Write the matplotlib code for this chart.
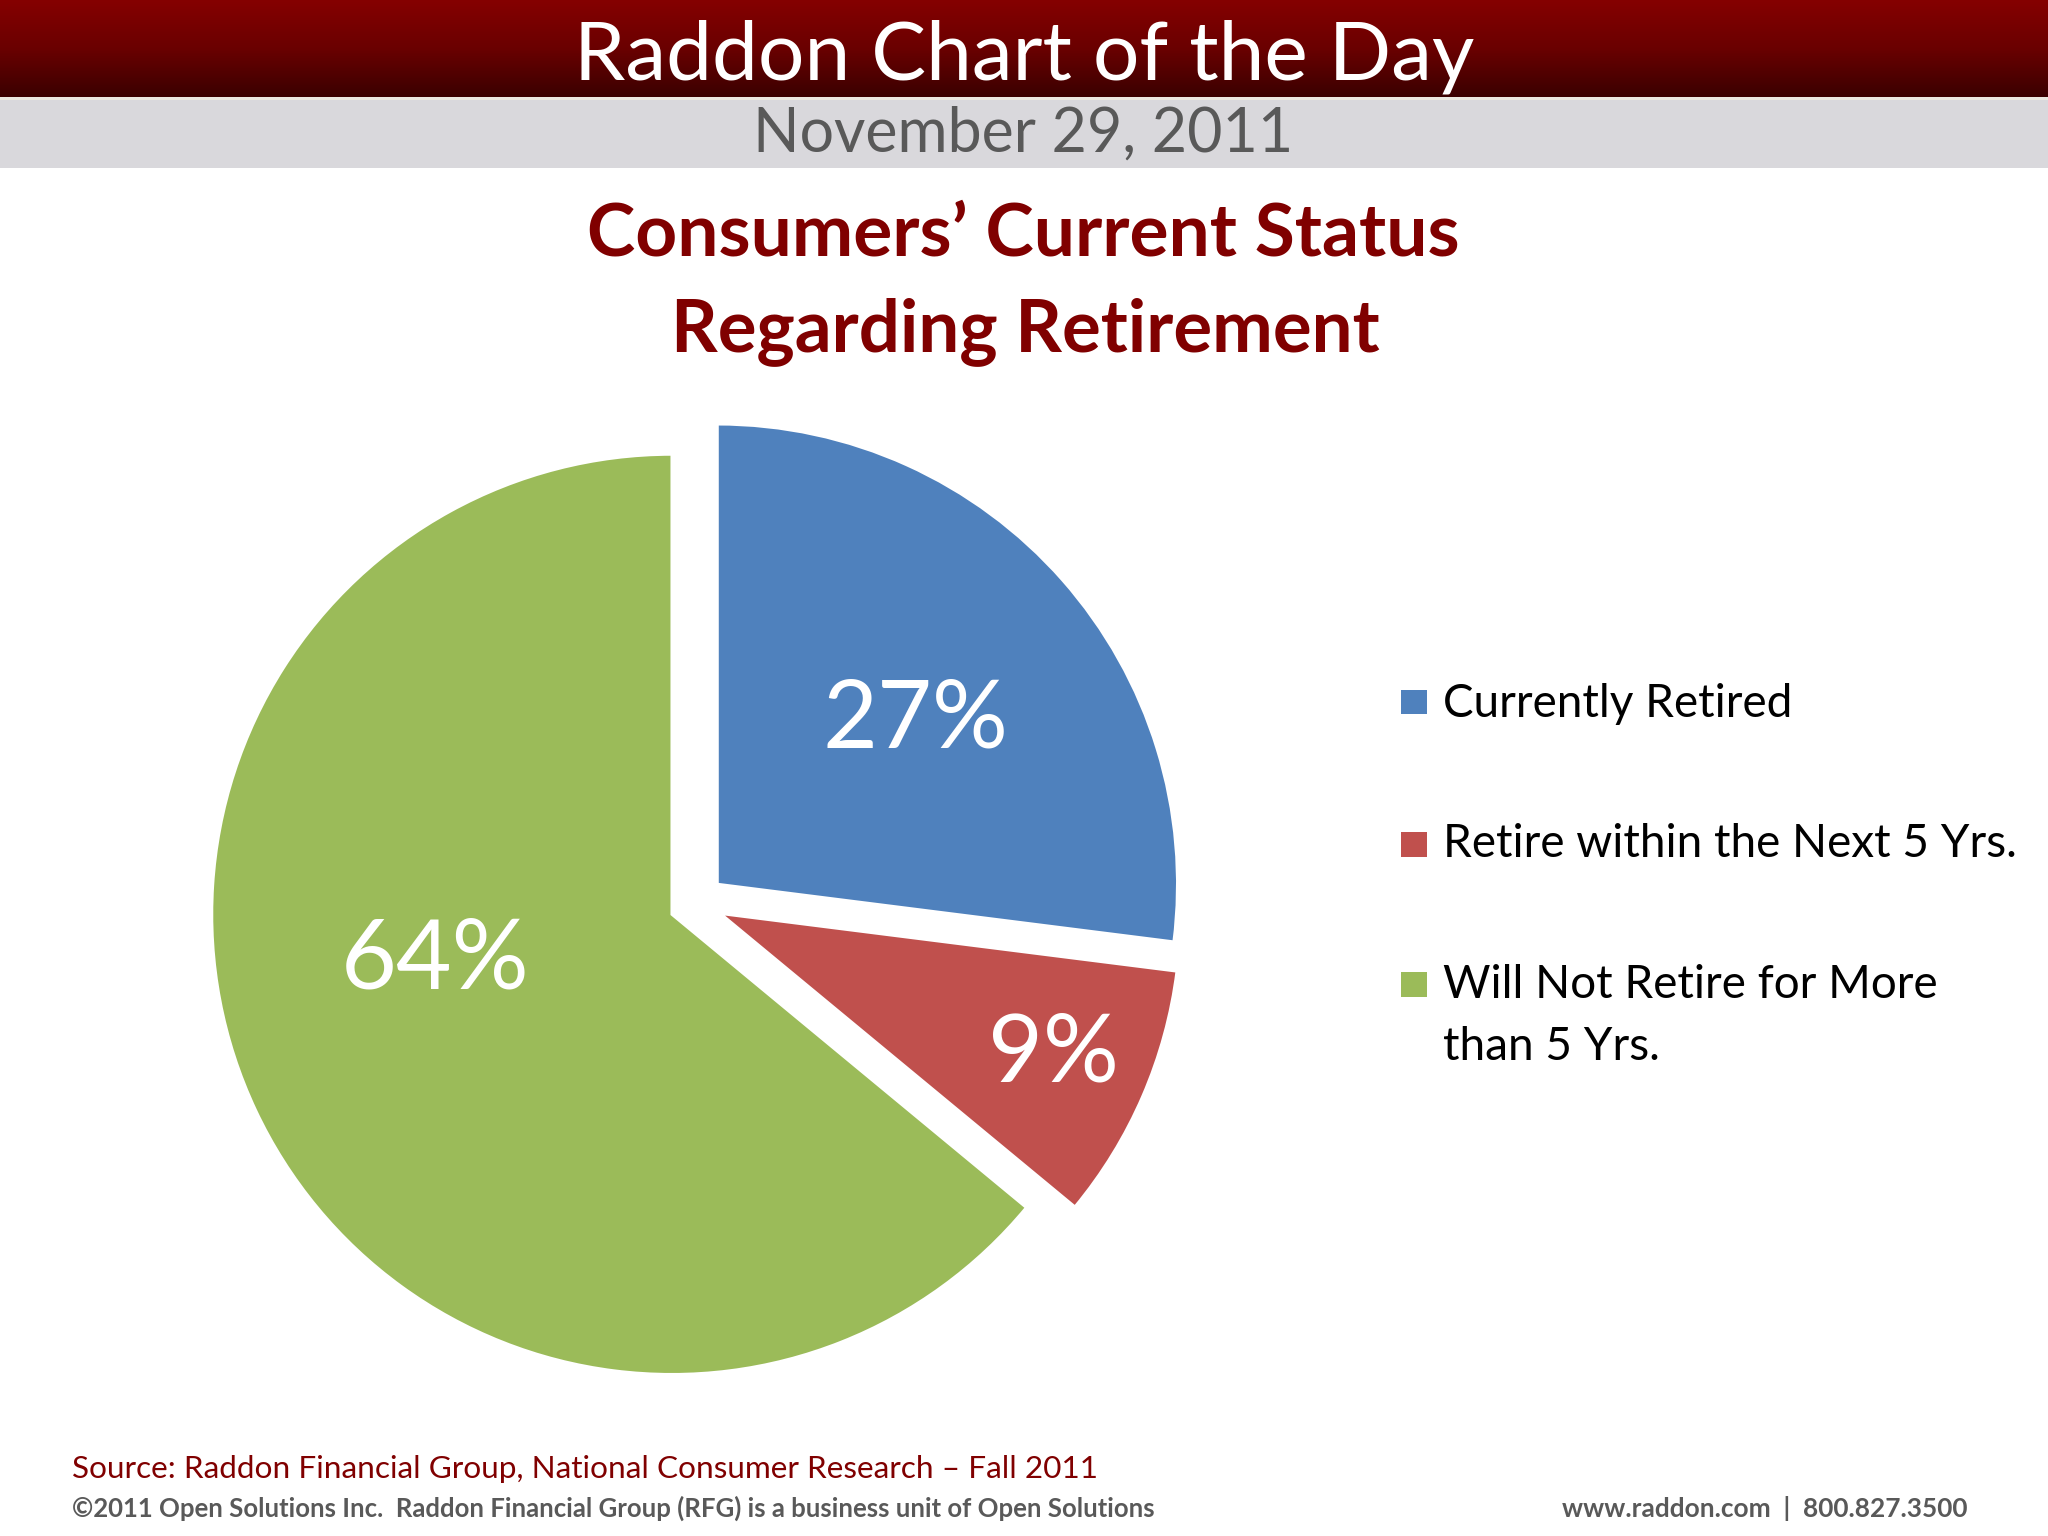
import matplotlib
matplotlib.use('Agg')
import matplotlib.pyplot as plt
import numpy as np
from matplotlib.patches import Rectangle
from matplotlib.colors import LinearSegmentedColormap

# ---------------- data ----------------
categories = ["Currently Retired", "Retire within the Next 5 Yrs.",
              "Will Not Retire for More\nthan 5 Yrs."]
values = [27, 9, 64]
pct_labels = ["27%", "9%", "64%"]
colors = ["#4F81BD", "#C0504D", "#9BBB59"]
explode = [0.062, 0.058, 0.058]

header_title = "Raddon Chart of the Day"
header_date = "November 29, 2011"
chart_title = ["Consumers\u2019 Current Status", "Regarding Retirement"]
source_txt = "Source: Raddon Financial Group, National Consumer Research \u2013 Fall 2011"
copyright_txt = "\u00a92011 Open Solutions Inc.  Raddon Financial Group (RFG) is a business unit of Open Solutions"
contact_txt = "www.raddon.com  |  800.827.3500"

# ---------------- layout ----------------
W, H = 2048, 1536
FONT = 'Lato'
fig = plt.figure(figsize=(W / 100, H / 100), dpi=100)
fig.patch.set_facecolor('white')
renderer = fig.canvas.get_renderer()


def fx(x):
    return x / W


def fy(y):
    return 1 - y / H


def fit_text(x, y, s, width, ha='left', **kw):
    t = fig.text(fx(x), fy(y), s, ha=ha, va='baseline', fontsize=40,
                 family=FONT, **kw)
    bb = t.get_window_extent(renderer)
    t.set_fontsize(40 * width / bb.width)
    return t


# header band (gradient)
hax = fig.add_axes([0, fy(97), 1, 97 / H])
grad = np.linspace(0, 1, 200)[:, None]
cmap = LinearSegmentedColormap.from_list('hdr', ['#850000', '#6a0000', '#3a0000'])
hax.imshow(grad, aspect='auto', cmap=cmap, extent=[0, 1, 0, 1], origin='upper')
hax.set_axis_off()

# gray date band
fig.patches.append(Rectangle((0, fy(168)), 1, 71 / H, transform=fig.transFigure,
                             facecolor='#d9d8dc', edgecolor='none', zorder=0))
fig.patches.append(Rectangle((0, fy(100)), 1, 3 / H, transform=fig.transFigure,
                             facecolor='#ebe8e0', edgecolor='none', zorder=1))

fit_text(1024, 80, header_title, 901, ha='center', color='white', zorder=5)
fit_text(1023, 152, header_date, 539, ha='center', color='#595959', zorder=5)

fit_text(1023, 255, chart_title[0], 872, ha='center', color='#800000',
         fontweight='bold')
fit_text(1025, 351, chart_title[1], 709, ha='center', color='#800000',
         fontweight='bold')

# ---------------- pie ----------------
R_px = 460
C = (696, 903)
a = 1.3
side = 2 * a * R_px
ax = fig.add_axes([(C[0] - side / 2) / W, (H - C[1] - side / 2) / H, side / W, side / H])
wedges, _ = ax.pie(values, colors=colors, explode=explode, startangle=90,
                   counterclock=False,
                   wedgeprops=dict(edgecolor='white', linewidth=2.0))
ax.set_xlim(-a, a)
ax.set_ylim(-a, a)
ax.set_aspect('equal')
ax.set_axis_off()

# percentage labels
label_pos = [(0.478, 0.339), (0.778, -0.387), (-0.567, -0.185)]
label_w = [186, 131, 189]
for (lx, ly), s, wpx in zip(label_pos, pct_labels, label_w):
    t = ax.text(lx, ly, s, ha='center', va='baseline', color='white',
                fontsize=60, family=FONT)
    bb = t.get_window_extent(renderer)
    t.set_fontsize(60 * wpx / bb.width)

# ---------------- legend ----------------
sq_y = [702, 844, 984]
base_y = [717, 857, 998]
probe = fit_text(1444, base_y[1], categories[1], 573, color='black')
leg_fs = probe.get_fontsize()
probe.remove()
for cat, col, sy, by in zip(categories, colors, sq_y, base_y):
    fig.patches.append(Rectangle((fx(1401), fy(sy + 12.5)), 26 / W, 25 / H,
                                 transform=fig.transFigure, facecolor=col,
                                 edgecolor='none'))
    for i, line in enumerate(cat.split('\n')):
        fig.text(fx(1443), fy(by + 62 * i), line, ha='left', va='baseline',
                 fontsize=leg_fs, family=FONT, color='black')

# ---------------- footer ----------------
fit_text(72, 1478, source_txt, 1022, color='#800000')
fit_text(72, 1517, copyright_txt, 1082, color='#595959', fontweight='bold')
fit_text(1967, 1517, contact_txt, 404, ha='right', color='#595959', fontweight='bold')

fig.savefig('out.png', dpi=100, facecolor='white')
